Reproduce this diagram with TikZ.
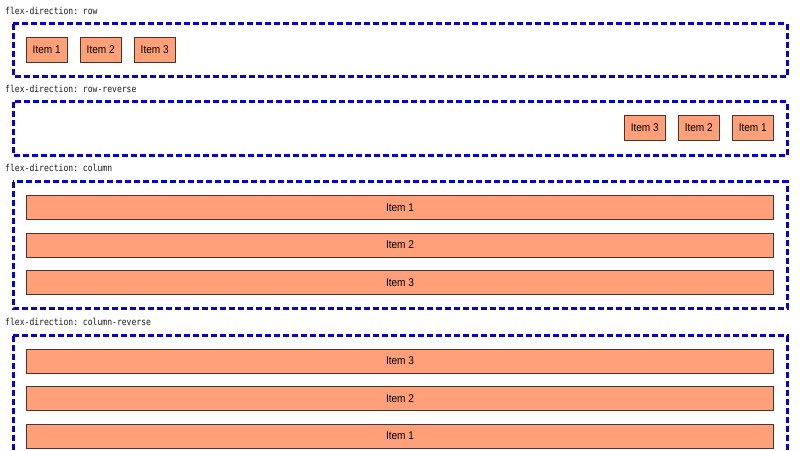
\documentclass[tikz,border=0pt]{standalone}
\usepackage{fontspec}
\setmainfont{Liberation Sans}
\setmonofont{DejaVu Sans Mono}
\definecolor{boxblue}{RGB}{5,5,200}
\definecolor{salmon}{RGB}{255,160,122}
\definecolor{itemborder}{RGB}{80,50,40}
\newcommand{\itxt}[1]{\scalebox{0.9}[1]{#1}}
\newcommand{\ltxt}[1]{\scalebox{0.85}[1]{#1}}
\begin{document}
\begin{tikzpicture}[x=1pt,y=-1pt,
  container/.style={draw=boxblue,line width=3pt,dash pattern=on 6pt off 3pt},
  item/.style={draw=itemborder,fill=salmon,line width=0.8pt},
  itemtext/.style={font=\fontsize{11.2}{13}\selectfont,text=black},
  lbl/.style={font=\ttfamily\fontsize{9.5}{11}\selectfont,anchor=base west,inner sep=0pt,text=black!90}]
\useasboundingbox (0,0) rectangle (800,450);
% labels
\node[lbl] (l1) at (5,14) {\ltxt{flex-direction: row}};
\node[lbl] (l2) at (5,92) {\ltxt{flex-direction: row-reverse}};
\node[lbl] (l3) at (5,171) {\ltxt{flex-direction: column}};
\node[lbl] (l4) at (5,325) {\ltxt{flex-direction: column-reverse}};
% containers
\draw[container] (13,23.5) rectangle (787,76) ;
\draw[container] (13,101.5) rectangle (787,155);
\draw[container] (13,181.5) rectangle (787,308);
\draw[container] (13,335.5) -- (787,335.5) -- (787,462) (13,335.5) -- (13,462);
% row
\draw[item] (26.5,37.5) rectangle (67,62) node[itemtext,midway] (r1) {\itxt{Item 1}};
\draw[item] (80.5,37.5) rectangle (121,62) node[itemtext,midway] (r2) {\itxt{Item 2}};
\draw[item] (134.5,37.5) rectangle (175,62) node[itemtext,midway] (r3) {\itxt{Item 3}};
% row-reverse
\draw[item] (624.5,115.5) rectangle (665,140) node[itemtext,midway] (rr3) {\itxt{Item 3}};
\draw[item] (678.5,115.5) rectangle (719,140) node[itemtext,midway] (rr2) {\itxt{Item 2}};
\draw[item] (732.5,115.5) rectangle (773,140) node[itemtext,midway] (rr1) {\itxt{Item 1}};
% column
\draw[item] (26.5,195.5) rectangle (773.5,219.5) node[itemtext,midway] (c1) {\itxt{Item 1}};
\draw[item] (26.5,233) rectangle (773.5,257) node[itemtext,midway] (c2) {\itxt{Item 2}};
\draw[item] (26.5,270.5) rectangle (773.5,294.5) node[itemtext,midway] (c3) {\itxt{Item 3}};
% column-reverse
\draw[item] (26.5,349) rectangle (773.5,373) node[itemtext,midway] (cr3) {\itxt{Item 3}};
\draw[item] (26.5,386.5) rectangle (773.5,410.5) node[itemtext,midway] (cr2) {\itxt{Item 2}};
\draw[item] (26.5,424) rectangle (773.5,448) node[itemtext,midway] (cr1) {\itxt{Item 1}};
\end{tikzpicture}
\end{document}
